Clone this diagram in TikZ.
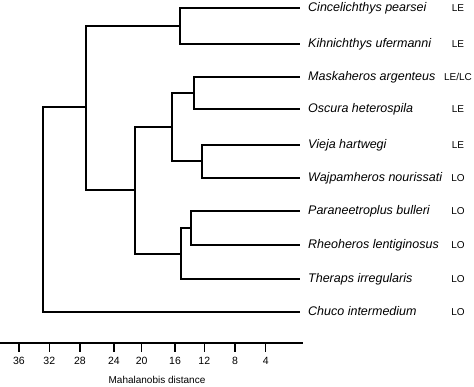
\documentclass[tikz,border=0pt]{standalone}
\usepackage{fontspec}
\setmainfont{Liberation Sans}
\begin{document}
\begin{tikzpicture}[x=1pt,y=-1pt,
  branch/.style={line width=2.4pt,line join=miter,line cap=rect},
  axisline/.style={line width=1.3pt},
  species/.style={anchor=base west,inner sep=0pt,font=\fontsize{12.5}{14}\selectfont\itshape},
  region/.style={anchor=base,inner sep=0pt,font=\fontsize{10}{12}\selectfont},
  ticklab/.style={anchor=base,inner sep=0pt,font=\fontsize{10.5}{12}\selectfont},
  axtitle/.style={anchor=base,inner sep=0pt,font=\fontsize{10}{12}\selectfont}]
\useasboundingbox (0,0) rectangle (474,387);

% leaves: line ends, names, regions
\foreach \i/\y/\nm/\rg in {
  1/8/Cincelichthys pearsei/LE,
  2/44/Kihnichthys ufermanni/LE,
  3/77/Maskaheros argenteus/LE\slash LC,
  4/109/Oscura heterospila/LE,
  5/145/Vieja hartwegi/LE,
  6/178/Wajpamheros nourissati/LO,
  7/211/Paraneetroplus bulleri/LO,
  8/245/Rheoheros lentiginosus/LO,
  9/279/Theraps irregularis/LO,
  10/312/Chuco intermedium/LO}{
  \coordinate (e\i) at (299,\y);
  \node[species] (n\i) at (308,\y+3.5) {\nm};
  \node[region] (r\i) at (458,\y+3.5) {\rg};
}

% internal nodes (bar x, mid y)
\coordinate (A) at (180,26);
\coordinate (B) at (194,93);
\coordinate (C) at (202,161);
\coordinate (BC) at (172,127);
\coordinate (D) at (191,228);
\coordinate (DE) at (181,254);
\coordinate (BCDE) at (135,190);
\coordinate (ABCDE) at (86,107);
\coordinate (R) at (43,210);

\draw[branch] (e1) -| (A) |- (e2);
\draw[branch] (e3) -| (B) |- (e4);
\draw[branch] (e5) -| (C) |- (e6);
\draw[branch] (B) -| (BC) |- (C);
\draw[branch] (e7) -| (D) |- (e8);
\draw[branch] (D) -| (DE) |- (e9);
\draw[branch] (BC) -| (BCDE) |- (DE);
\draw[branch] (A) -| (ABCDE) |- (BCDE);
\draw[branch] (ABCDE) -| (R) |- (e10);

% axis
\coordinate (ax0) at (0,343);
\coordinate (ax1) at (303,343);
\draw[axisline] (ax0) -- (ax1);
\foreach \x/\v in {19/36,49.3/32,80/28,114/24,141.7/20,175/16,204.3/12,235/8,265.7/4}{
  \draw[axisline] (\x,343) -- (\x,352);
  \node[ticklab] at (\x,365) {\v};
}
\node[axtitle] (title) at (157,384) {Mahalanobis distance};
\end{tikzpicture}
\end{document}
